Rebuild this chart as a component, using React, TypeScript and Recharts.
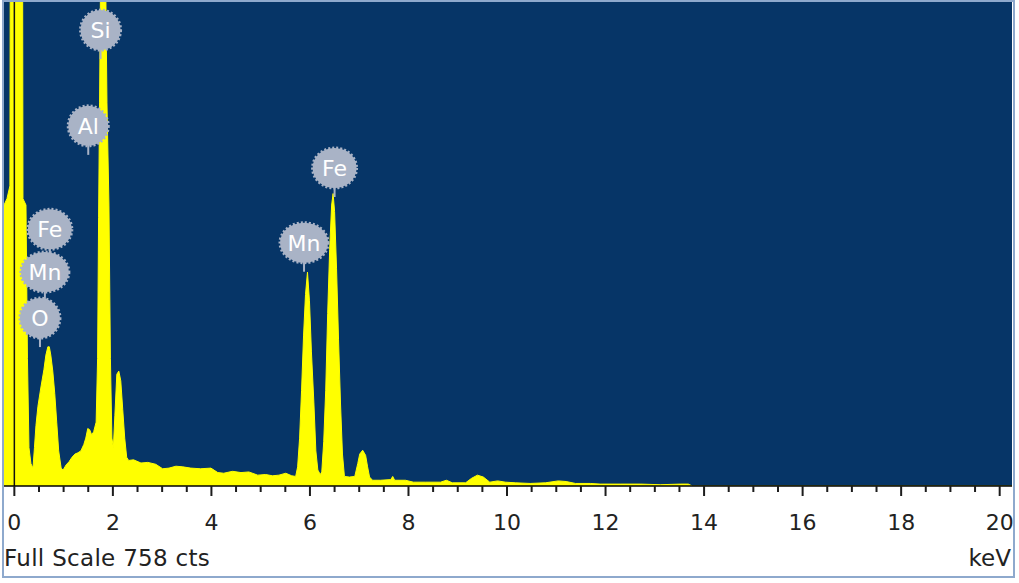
import React from "react";
import { AreaChart, Area, XAxis, YAxis, CartesianGrid, ReferenceLine, ReferenceDot } from "recharts";

// spectrum, energy in keV and counts (full scale 758 cts)
const energies = [
  -0.21, -0.15, -0.09, -0.07, 0.155, 0.175, 0.236, 0.266, 0.297, 0.337, 0.378,
  0.408, 0.439, 0.479, 0.54, 0.6, 0.64, 0.68, 0.71, 0.74, 0.78, 0.82, 0.86, 0.9, 0.95,
  0.99, 1.05, 1.11, 1.17, 1.23, 1.29, 1.35, 1.41, 1.45, 1.49, 1.53, 1.57, 1.61, 1.66,
  1.69, 1.71, 1.73, 1.76, 1.84, 1.88, 1.92, 1.95, 1.98, 2.01, 2.04, 2.08, 2.12, 2.16,
  2.2, 2.24, 2.28, 2.32, 2.42, 2.57, 2.71, 2.87, 3.01, 3.14, 3.28, 3.42, 3.58, 3.78,
  3.99, 4.13, 4.25, 4.43, 4.6, 4.76, 4.94, 5.1, 5.24, 5.37, 5.51, 5.63, 5.71,
  5.75, 5.79, 5.83, 5.87, 5.91, 5.95, 5.99, 6.03, 6.08, 6.12, 6.16, 6.21,
  6.24, 6.28, 6.32, 6.36, 6.4, 6.44, 6.47, 6.5, 6.54, 6.58, 6.62, 6.66, 6.7, 6.8, 6.91,
  6.97, 7.01, 7.07, 7.13, 7.17, 7.21, 7.27, 7.43, 7.64, 7.68, 7.72, 7.94, 8.1, 8.35,
  8.65, 8.77, 8.89, 9.16, 9.28, 9.4, 9.52, 9.65, 9.81, 9.97, 10.17, 10.47, 10.78,
  11.04, 11.2, 11.39, 11.69, 11.89, 12.3, 12.71, 13.11, 13.52, 13.68, 13.76, 20.25,
];
const counts = [
  440, 450, 470, 1500, 1500, 450, 440, 200, 60, 35, 28,
  60, 95, 125, 155, 182, 205, 218, 218, 205, 180, 145, 100, 55, 28,
  25, 33, 38, 45, 50, 52, 55, 65, 75, 90, 88, 80, 85, 100,
  200, 420, 600, 900, 900, 600, 440, 200, 75, 60, 110, 175, 180, 165,
  120, 75, 45, 40, 41, 36, 37, 34, 27, 28, 31, 30, 28, 27,
  28, 21, 20, 23, 21, 22, 17, 18, 16, 17, 20, 16, 15,
  30, 75, 150, 235, 300, 335, 290, 210, 130, 55, 25, 18,
  22, 70, 150, 270, 370, 440, 458, 430, 340, 230, 130, 50, 15, 14, 15,
  35, 50, 56, 48, 30, 14, 9, 9, 10, 15, 9, 9, 6, 6,
  6, 9, 5, 5, 12, 17, 14, 6, 8, 6, 5, 4, 5,
  8, 7, 4, 4, 3, 3, 3, 2, 3, 3, 0, 0,
];

const majorTicks = [0, 2, 4, 6, 8, 10, 12, 14, 16, 18, 20];
const allTicks = [
  0, 0.5, 1, 1.5, 2, 2.5, 3, 3.5, 4, 4.5, 5, 5.5, 6, 6.5, 7, 7.5, 8, 8.5, 9, 9.5, 10,
  10.5, 11, 11.5, 12, 12.5, 13, 13.5, 14, 14.5, 15, 15.5, 16, 16.5, 17, 17.5, 18, 18.5, 19, 19.5, 20,
];

// element markers: name, energy (keV), marker height (cts)
const peakNames = ["Si", "Al", "Fe", "Mn", "O", "Mn", "Fe"];
const peakEnergies = [1.75, 1.5, 0.72, 0.62, 0.52, 5.88, 6.5];
const peakHeights = [714, 564, 402, 335, 263, 381, 498];

const data = energies.map((e, i) => ({ e, c: counts[i] }));

const FONT = "DejaVu Sans";
const BADGE = "#a9b3c6";

const EnergyTick = (props: any) => {
  const { x, y, payload } = props;
  const v = payload.value;
  const major = majorTicks.includes(v);
  return (
    <g>
      <line x1={x} x2={x} y1={y} y2={y + (major ? 10 : 6)} stroke="#1c1c1c" strokeWidth={2} />
      {major && (
        <text x={x} y={y + 44} textAnchor="middle" fontSize={22} fontFamily={FONT} fill="#222">
          {v}
        </text>
      )}
    </g>
  );
};

const Badge = ({ cx, cy, name }: { cx: number; cy: number; name: string }) => {
  const rx = name === "Mn" ? 24 : name === "Fe" ? 22 : 20;
  const ry = 20;
  return (
    <g>
      <line x1={cx} x2={cx} y1={cy} y2={cy + ry + 9} stroke={BADGE} strokeWidth={2} />
      <ellipse cx={cx} cy={cy} rx={rx} ry={ry} fill={BADGE} stroke={BADGE} strokeWidth={3} strokeDasharray="2 2" />
      <text x={cx} y={cy + 8} textAnchor="middle" fontSize={22} fontFamily={FONT} fill="#ffffff">
        {name}
      </text>
    </g>
  );
};

export default function App() {
  return (
    <div style={{ position: "absolute", left: 0, top: 0, width: 1019, height: 583, background: "#fff" }}>
      <AreaChart width={1019} height={583} data={data} margin={{ top: 2, right: 7, bottom: 0, left: 4 }}>
        <CartesianGrid horizontal={false} vertical={false} fill="#063567" />
        <XAxis
          dataKey="e"
          type="number"
          domain={[-0.21, 20.25]}
          allowDataOverflow
          ticks={allTicks}
          interval={0}
          tick={<EnergyTick />}
          tickLine={false}
          tickSize={0}
          tickMargin={0}
          height={97}
          axisLine={{ stroke: "#000", strokeWidth: 1.5 }}
        />
        <YAxis hide domain={[0, 758]} allowDataOverflow />
        <Area
          type="linear"
          dataKey="c"
          stroke="#ffff00"
          strokeWidth={1}
          fill="#ffff00"
          fillOpacity={1}
          dot={false}
          activeDot={false}
          isAnimationActive={false}
        />
        <ReferenceLine x={0} stroke="#111" strokeWidth={1.5} />
        {peakNames.map((n, i) => (
          <ReferenceDot
            key={i}
            x={peakEnergies[i]}
            y={peakHeights[i]}
            r={20}
            shape={(p: any) => <Badge cx={p.cx} cy={p.cy} name={n} />}
          />
        ))}
      </AreaChart>
      <div style={{ position: "absolute", left: 4, top: 545, fontFamily: FONT, fontSize: 23, color: "#222", lineHeight: "26px", letterSpacing: 0.3 }}>
        Full Scale 758 cts
      </div>
      <div style={{ position: "absolute", right: 8, top: 545, fontFamily: FONT, fontSize: 23, color: "#222", lineHeight: "26px" }}>
        keV
      </div>
      <div
        style={{
          position: "absolute",
          left: 2,
          top: 0,
          width: 1013,
          height: 578,
          border: "2px solid #8ea9cd",
          boxSizing: "border-box",
          pointerEvents: "none",
        }}
      />
    </div>
  );
}
